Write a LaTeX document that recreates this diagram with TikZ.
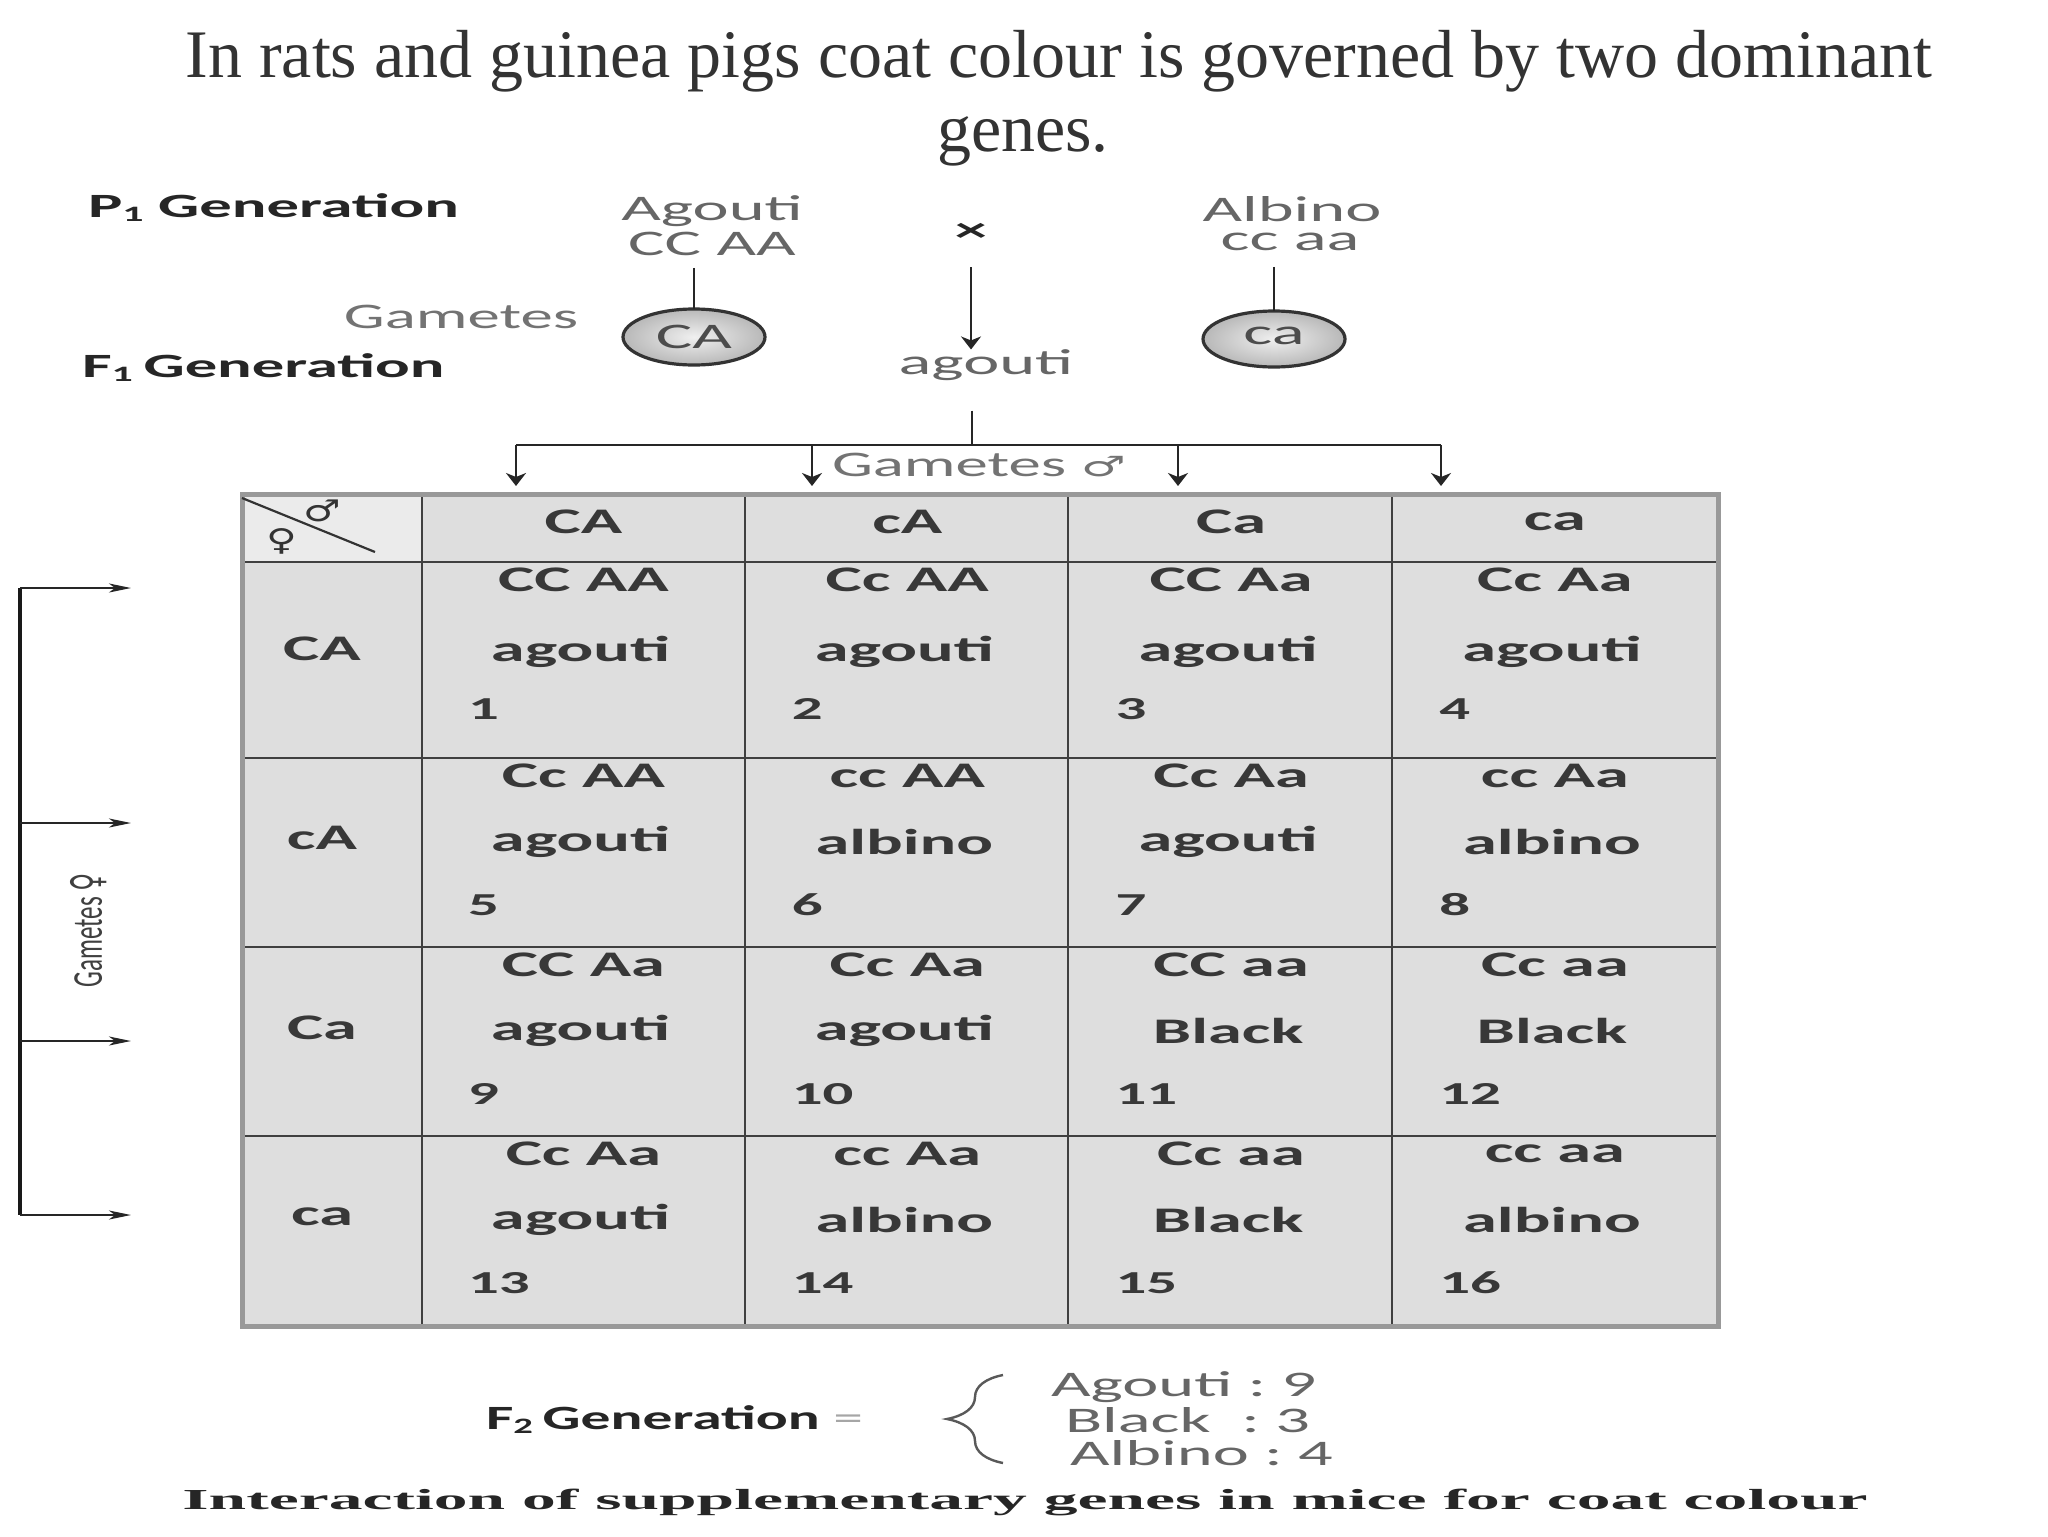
\documentclass[tikz,border=0pt]{standalone}
\usepackage{fontspec}
\setmainfont{Carlito}
\newfontfamily\titlefont{Liberation Serif}
\newfontfamily\symfont{DejaVu Sans}
\usetikzlibrary{arrows.meta,shapes.geometric,decorations.pathreplacing}
\newcommand{\sx}[1]{\scalebox{1.9}[1]{#1}}
\newcommand{\capx}[1]{\scalebox{2.33}[1]{#1}}
\begin{document}
\begin{tikzpicture}[x=0.5pt,y=-0.5pt,
  every node/.style={inner sep=0pt, outer sep=0pt},
  titletext/.style={font=\titlefont\fontsize{34}{40}\selectfont, text=black!80, anchor=base},
  gen/.style={font=\bfseries\fontsize{17}{20}\selectfont, text=black!85},
  lab/.style={font=\fontsize{18}{21}\selectfont, text=black!60},
  cell/.style={font=\bfseries\fontsize{18}{21}\selectfont, text=black!78},
  num/.style={font=\bfseries\fontsize{16}{19}\selectfont, text=black!78, anchor=west},
  gam/.style={ellipse, draw=black!80, line width=1.6pt, inner color=black!6, outer color=black!28,
              minimum width=71pt, minimum height=28pt, font=\fontsize{18}{21}\selectfont, text=black!70},
  con/.style={line width=1.4pt, draw=black!85},
  arr/.style={con, -{Stealth[length=6.5pt,width=10pt,inset=2pt]}},
  harr/.style={line width=1pt, draw=black!85, -{Stealth[length=11pt,width=4.5pt,inset=3pt]}},
  gridline/.style={line width=1.4pt, draw=black!75},
]
\useasboundingbox (0,0) rectangle (2048,1536);
\fill[white] (0,0) rectangle (2048,1536);

% title
\node[titletext] (t1) at (1059,78) {In rats and guinea pigs coat colour is governed by two dominant};
\node[titletext] (t2) at (1023,151) {genes.};

% P1 generation
\node[gen, anchor=west] (p1) at (88,208) {\sx{P{\fontsize{11}{12}\selectfont\raisebox{-2pt}{1}}\ Generation}};
\node[lab] (agP) at (712,211) {\sx{Agouti}};
\node[lab] (agG) at (712,244) {\sx{CC AA}};
\node[gen] (cross) at (971,232) {\sx{×}};
\node[lab] (alP) at (1292,209) {\sx{Albino}};
\node[lab] (alG) at (1290,242) {\sx{cc aa}};

\node[lab, text=black!55] (gtxt) at (461,317) {\scalebox{1.8}[1]{Gametes}};
\node[gam] (gCA) at (694,337) {\sx{CA}};
\node[gam] (gca) at (1274,339) {\raisebox{3pt}{\sx{ca}}};

\node[gen, anchor=west] (f1) at (82,368) {\sx{F{\fontsize{11}{12}\selectfont\raisebox{-2pt}{1}}\,Generation}};
\node[lab] (agF1) at (986,365) {\sx{agouti}};

\draw[con, shorten <=6pt] (agG.south -| gCA.north) -- (gCA.north);
\draw[con, shorten <=8pt] (alG.south -| gca.north) -- (gca.north);
\draw[arr, shorten <=13pt] (cross.south) -- (agF1.north -| cross.south);

% F1 gametes distribution
\coordinate (j) at (972,445);
\coordinate (b1) at (516,445);
\coordinate (b4) at (1441,445);
\coordinate (m1) at (516,486);
\coordinate (m2) at (812,486);
\coordinate (m3) at (1178,486);
\coordinate (m4) at (1441,486);
\draw[con, shorten <=15pt] (agF1.south -| j) -- (j);
\draw[con] (b1) -- (b4);
\foreach \m in {m1,m2,m3,m4} \draw[arr] (\m |- j) -- (\m);
\node[lab, anchor=west, text=black!55] (gm) at (832,465) {\scalebox{1.8}[1]{Gametes\ {\symfont\fontsize{14}{16}\selectfont ♂}}};

% table
\fill[black!13] (242,494) rectangle (1718,1326);
\fill[black!8] (242,494) rectangle (422,562);
\foreach \x in {422,745,1068,1392} \draw[gridline] (\x,494) -- (\x,1326);
\foreach \y in {562,758,947,1136} \draw[gridline] (242,\y) -- (1718,\y);
\draw[black!40, line width=2.5pt] (242,494) rectangle (1718,1326);
\draw[black!80, line width=1.1pt] (242,498) -- (375,552);
\node[font=\symfont\fontsize{15}{17}\selectfont, text=black!80] (male) at (322,511) {\scalebox{1.4}[1]{♂}};
\node[font=\symfont\fontsize{15}{17}\selectfont, text=black!80] (female) at (282,541) {\scalebox{1.4}[1]{♀}};

\foreach \t [count=\i from 0] in {CA,cA,Ca,ca}
  \node[cell] (h\i) at ({583.5+\i*323.8},522) {\sx{\t}};
\foreach \t/\y [count=\i from 0] in {CA/649,cA/838,Ca/1028,ca/1217}
  \node[cell] (r\i) at (322,\y) {\sx{\t}};

\foreach \g/\p/\n [count=\k from 0] in {
  CC AA/agouti/1, Cc AA/agouti/2, CC Aa/agouti/3, Cc Aa/agouti/4,
  Cc AA/agouti/5, cc AA/albino/6, Cc Aa/agouti/7, cc Aa/albino/8,
  CC Aa/agouti/9, Cc Aa/agouti/10, CC aa/Black/11, Cc aa/Black/12,
  Cc Aa/agouti/13, cc Aa/albino/14, Cc aa/Black/15, cc aa/albino/16} {
  \pgfmathtruncatemacro\rr{int(\k/4)}
  \pgfmathtruncatemacro\cc{mod(\k,4)}
  \pgfmathsetmacro\rt{{562,758,947,1136}[\rr]}
  \pgfmathsetmacro\po{{90,84,84,84}[\rr]}
  \pgfmathsetmacro\xc{583.5+\cc*323.8}
  \pgfmathsetmacro\xl{422+\cc*323.8}
  \node[cell] (g\n) at (\xc,\rt+18) {\sx{\g}};
  \node[cell] (p\n) at (\xc-3,\rt+\po) {\sx{\p}};
  \node[num] (n\n) at (\xl+46,\rt+147) {\sx{\n}};
}

% female gametes bracket
\coordinate (lt) at (20,588);
\coordinate (lb) at (20,1215);
\draw[black!90, line width=2pt] (lt) -- (lb);
\foreach \y [count=\i] in {588,823,1041,1215} {
  \coordinate (la\i) at (131,\y);
  \draw[harr] (la\i -| lt) -- (la\i);
}
\node[font=\fontsize{12.5}{15}\selectfont, text=black!75, rotate=90] (gf) at (89,930)
  {\scalebox{1}[1.7]{Gametes {\symfont ♀}}};

% F2 generation
\node[gen, anchor=west] (f2) at (486,1420) {\scalebox{1.75}[1]{F{\fontsize{11}{12}\selectfont\raisebox{-2pt}{2}}\,Generation {\mdseries\color{black!35}=}}};
\draw[decorate, decoration={brace, amplitude=28pt}, line width=1.2pt, black!65] (1003,1463) -- (1003,1375);
\node[lab, anchor=west] (res1) at (1051,1387) {\sx{Agouti\ :\ 9}};
\node[lab, anchor=west] (res2) at (1065,1420) {\sx{Black\ \ :\ 3}};
\node[lab, anchor=west] (res3) at (1070,1453) {\sx{Albino\ :\ 4}};

% caption
\node[font=\titlefont\bfseries\fontsize{14.5}{17}\selectfont, text=black!85] (cap) at (1025,1502)
  {\capx{Interaction of supplementary genes in mice for coat colour}};
\end{tikzpicture}
\end{document}
